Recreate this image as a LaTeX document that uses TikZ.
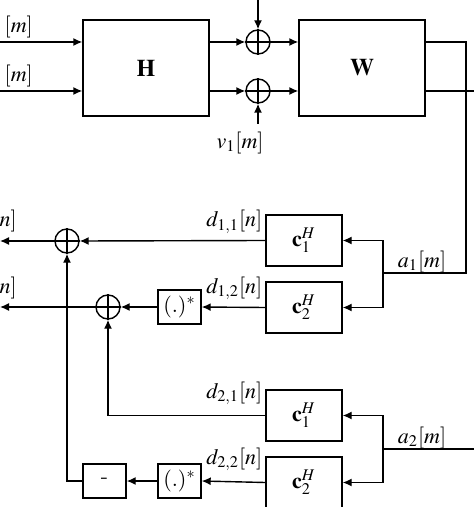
\documentclass[tikz,border=0pt]{standalone}
\usepackage{mathptmx}
\usepackage{tikz}
\usetikzlibrary{arrows.meta, positioning, calc}

\begin{document}
\begin{tikzpicture}[x=0.5pt, y=-0.5pt, line width=0.7pt,
  every node/.style={font=\fontsize{11}{13}\selectfont},
  arr/.style={-{Latex[length=4.5pt,width=4pt]}},
  bigbox/.style={rectangle,draw,minimum width=63pt,minimum height=48pt,font=\large},
  filt/.style={rectangle,draw,minimum width=38pt,minimum height=25.5pt},
  opbox/.style={rectangle,draw,minimum width=21.5pt,minimum height=17pt,inner sep=0pt},
  adder/.style={circle,draw,minimum size=12pt,inner sep=0pt}]
\useasboundingbox (0,0) rectangle (474,507);
% Mixing and unmixing blocks
\node[bigbox] (H) at (146,68) {$\mathbf{H}$};
\node[bigbox] (W) at (362,68) {$\mathbf{W}$};
\node[adder] (s1) at (258,42) {};
\node[adder] (s2) at (258,91) {};
% Filter banks
\foreach \i/\k/\y in {11/1/240.5,12/2/307.5,21/1/415.5,22/2/482.5} {
  \node[filt] (c\i) at (304,\y) {$\mathbf{c}_\k^H$};
}
\node[opbox] (conj1) at (179.5,307) {$(.)^*$};
\node[opbox] (conj2) at (179.5,481) {$(.)^*$};
\node[opbox] (neg) at (104.5,481) {-};
\node[adder] (p1) at (67,241) {};
\node[adder] (p2) at (108,307) {};
\foreach \s in {s1,s2,p1,p2} {
  \draw (\s.north) -- (\s.south) (\s.west) -- (\s.east);
}
% Free ends and corners
\coordinate (in1) at (0,42);
\coordinate (in2) at (0,91);
\coordinate (vtop) at (258,0);
\coordinate (vin) at (258,124);
\coordinate (out1) at (466,273);
\coordinate (out2) at (474,91);
\coordinate (a1j) at (383,273);
\coordinate (a2in) at (474,449);
\coordinate (a2j) at (383,449);
\coordinate (o1) at (0,241);
\coordinate (o2) at (0,307);
% Labels
\node[anchor=base west,inner sep=0pt] at (4,33) {$[m]$};
\node[anchor=base west,inner sep=0pt] at (4,82) {$[m]$};
\node at (240,143) {$v_1[m]$};
\node at (422,262) {$a_1[m]$};
\node at (422,438) {$a_2[m]$};
\node[anchor=base east,inner sep=1pt] at (265,227) {$d_{1,1}[n]$};
\node[anchor=base east,inner sep=1pt] at (265,293) {$d_{1,2}[n]$};
\node[anchor=base east,inner sep=1pt] at (265,398) {$d_{2,1}[n]$};
\node[anchor=base east,inner sep=1pt] at (265,464) {$d_{2,2}[n]$};
\node[anchor=base west,inner sep=0pt] at (-1,227) {$n]$};
\node[anchor=base west,inner sep=0pt] at (-1,293) {$n]$};
% Top signal path
\draw[arr] (in1) -- (in1 -| H.west);
\draw[arr] (in2) -- (in2 -| H.west);
\draw[arr] (s1 -| H.east) -- (s1.west);
\draw[arr] (s2 -| H.east) -- (s2.west);
\draw[arr] (s1.east) -- (s1 -| W.west);
\draw[arr] (s2.east) -- (s2 -| W.west);
\draw[arr] (vtop) -- (s1.north);
\draw[arr] (vin) -- (s2.south);
\draw (s1 -| W.east) -| (out1) -- (a1j);
\draw (s2 -| W.east) -- (out2);
\draw (a2in) -- (a2j);
% Branches into the filters
\draw[arr] (a1j) |- (c11.east);
\draw[arr] (a1j) |- (c12.east);
\draw[arr] (a2j) |- (c21.east);
\draw[arr] (a2j) |- (c22.east);
% Combining outputs
\draw[arr] (c11.west) -- (p1.east);
\draw[arr] (p1.west) -- (o1);
\draw[arr] (c12.west) -- (conj1.east);
\draw[arr] (conj1.west) -- (p2.east);
\draw[arr] (p2.west) -- (o2);
\draw[arr] (c21.west) -| (p2.south);
\draw[arr] (c22.west) -- (conj2.east);
\draw[arr] (conj2.west) -- (neg.east);
\draw[arr] (neg.west) -| (p1.south);
\end{tikzpicture}
\end{document}
